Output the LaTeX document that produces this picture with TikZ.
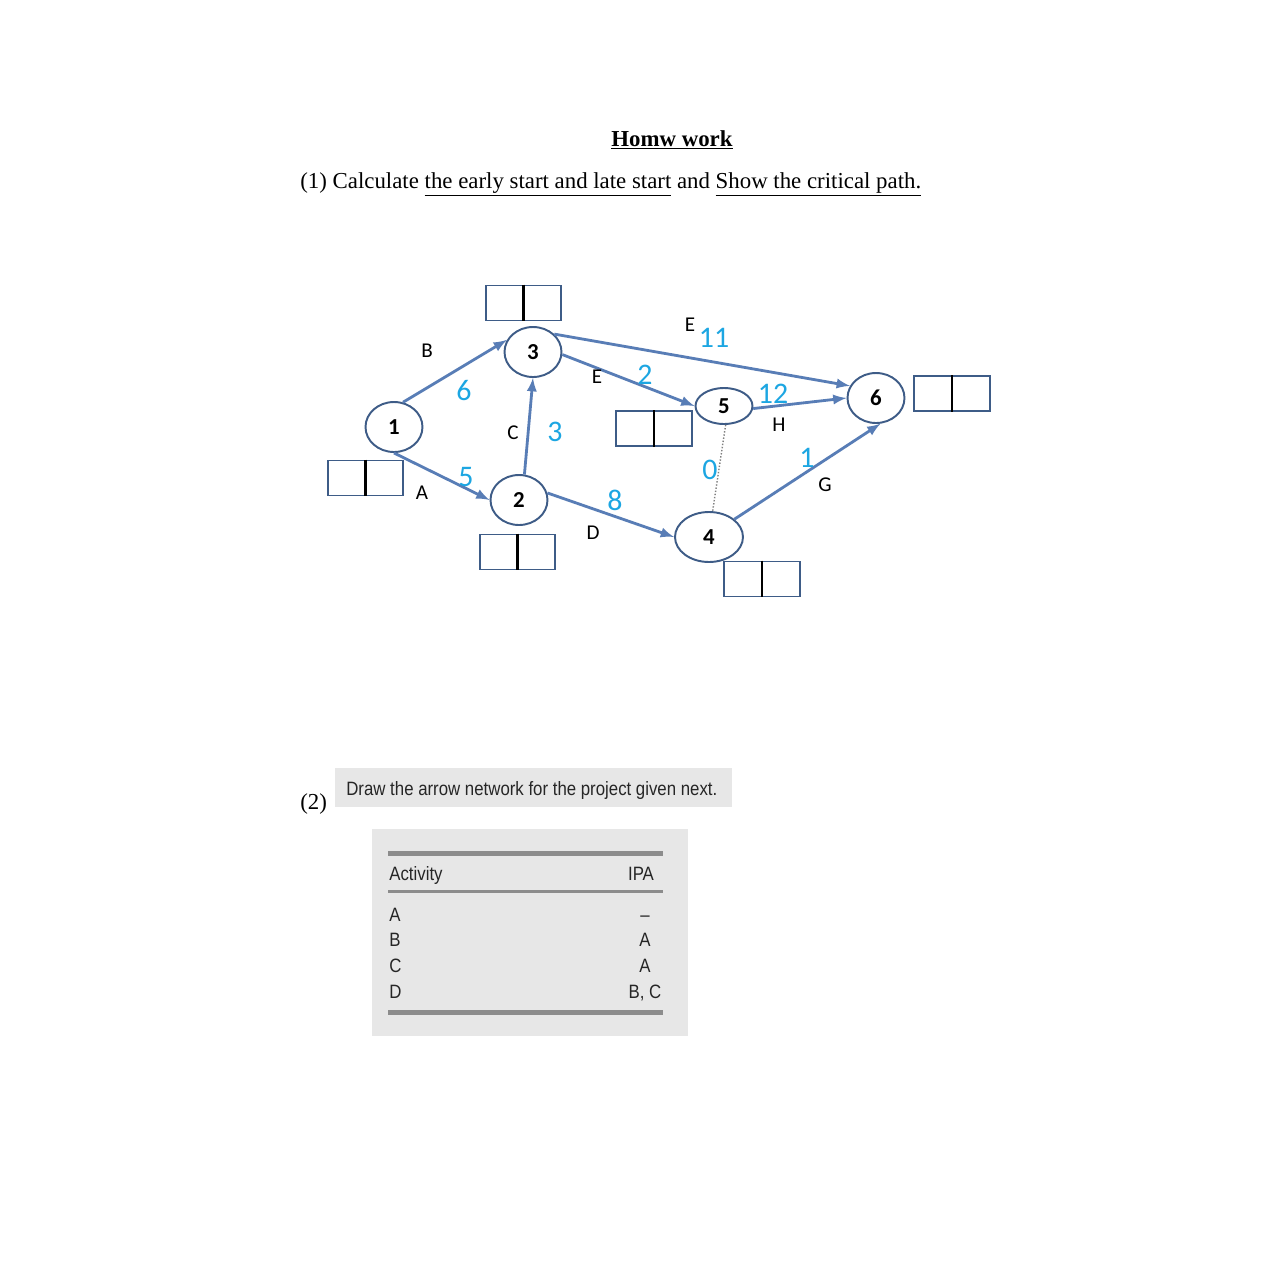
\documentclass[tikz,border=0pt]{standalone}
\usepackage{fontspec}
\setmainfont{Liberation Serif}
\newfontfamily\calibri{Carlito}
\newfontfamily\narrow[FakeStretch=0.87]{Liberation Sans}
\usetikzlibrary{arrows,shapes.geometric,shapes.multipart}
\definecolor{actblue}{RGB}{88,125,182}
\definecolor{ringblue}{RGB}{62,92,135}
\definecolor{durcyan}{RGB}{28,166,226}
\definecolor{panel}{RGB}{231,231,231}
\definecolor{rulegray}{RGB}{140,140,140}
\newcommand{\twocells}{\rule{7.4mm}{0pt}\nodepart{two}\rule{7.4mm}{0pt}}

\begin{document}
\begin{tikzpicture}[x=0.02cm, y=-0.02cm, >=latex,
    event/.style={ellipse, draw=ringblue, line width=1.1pt, fill=white,
            minimum width=1.14cm, minimum height=1cm, inner sep=0pt,
            font=\calibri\bfseries\fontsize{13}{13}\selectfont},
    timebox/.style={rectangle split, rectangle split parts=2,
            rectangle split horizontal, draw=ringblue, line width=1.1pt,
            inner xsep=0pt, minimum height=0.7cm},
    act/.style={->, actblue, line width=1.6pt},
    dummy/.style={densely dotted, gray, line width=0.8pt},
    lbl/.style={font=\calibri\fontsize{12}{12}\selectfont, inner sep=0pt},
    dur/.style={font=\calibri\fontsize{17}{17}\selectfont, text=durcyan, inner sep=0pt},
    txt/.style={font=\fontsize{13}{15}\selectfont, inner sep=0pt},
    tab/.style={font=\narrow\fontsize{11}{13}\selectfont, text=black!85, inner sep=0pt}]

  \fill[white] (0,0) rectangle (1265,1265);
  \useasboundingbox (0,0) rectangle (1265,1265);

  % heading
  \node[txt, anchor=base] (title) at (672,146) {\textbf{\underline{Homw work}}};
  \node[txt, anchor=base west] (q1) at (300,188)
    {(1) Calculate \underline{the early start and late start} and \underline{Show the critical path.}};

  % events
  \node[event] (1) at (394,427) {1};
  \node[event] (3) at (533,352) {3};
  \node[event] (2) at (519,500) {2};
  \node[event, minimum height=0.72cm] (5) at (724,406) {5};
  \node[event, minimum width=1.36cm] (4) at (709,537) {4};
  \node[event] (6) at (876,398) {6};

  % empty time boxes
  \node[timebox] (b1) at (365.5,478) {\twocells};
  \node[timebox] (b2) at (517.5,552) {\twocells};
  \node[timebox] (b3) at (523.5,303) {\twocells};
  \node[timebox] (b4) at (762,579) {\twocells};
  \node[timebox] (b5) at (654,428.5) {\twocells};
  \node[timebox] (b6) at (952,393.5) {\twocells};
  \foreach \b in {b1,b2,b3,b4,b5,b6}
    \draw[line width=1.4pt] (\b.one split north) -- (\b.one split south);

  % activities
  \draw[act] (1.70) -- (3.155);
  \draw[act] (1.-90) -- (2.180);
  \draw[act] (2.78) -- (3.-90);
  \draw[act] (3.40) -- (6.155);
  \draw[act] (3.-5) -- (5.180);
  \draw[act] (2.14) -- (4.180);
  \draw[act] (5.-5) -- (6.180);
  \draw[act] (4.35) -- (6.-80);
  \draw[dummy] (5.-85) -- (4.82);

  % activity names
  \node[lbl] (lB) at (427,351) {B};
  \node[lbl] (lA) at (422,493) {A};
  \node[lbl] (lC) at (513,433) {C};
  \node[lbl] (lE1) at (690,325) {E};
  \node[lbl] (lE2) at (597,377) {E};
  \node[lbl] (lD) at (593,533) {D};
  \node[lbl] (lH) at (779,425) {H};
  \node[lbl] (lG) at (825,485) {G};

  % durations
  \node[dur] (d6) at (464,391) {6};
  \node[dur] (d5) at (466,477) {5};
  \node[dur] (d3) at (555,432) {3};
  \node[dur] (d11) at (714,338) {11};
  \node[dur] (d2) at (645,375) {2};
  \node[dur] (d8) at (615,500) {8};
  \node[dur] (d12) at (773,394) {12};
  \node[dur] (d0) at (710,470) {0};
  \node[dur] (d1) at (807,458) {1};

  % part (2)
  \node[txt, anchor=base west] (q2) at (300,809) {(2)};
  \fill[panel] (335,768) rectangle (732,807);
  \node[tab, anchor=base west] (ask) at (346,795) {Draw the arrow network for the project given next.};

  \fill[panel] (372,829) rectangle (688,1036);
  \fill[rulegray] (388,850.5) rectangle (663,855.5);
  \fill[rulegray] (388,889.5) rectangle (663,892.5);
  \fill[rulegray] (388,1009.5) rectangle (663,1014.5);
  \node[tab, anchor=base west] (hact) at (389,880) {Activity};
  \node[tab, anchor=base] (hipa) at (641,880) {IPA};
  \node[tab, anchor=base west] (rA) at (389,921) {A};
  \node[tab, anchor=base west] (rB) at (389,946) {B};
  \node[tab, anchor=base west] (rC) at (389,972) {C};
  \node[tab, anchor=base west] (rD) at (389,998) {D};
  \node[tab, anchor=base] (pA) at (645,921) {\textendash};
  \node[tab, anchor=base] (pB) at (645,946) {A};
  \node[tab, anchor=base] (pC) at (645,972) {A};
  \node[tab, anchor=base] (pD) at (645,998) {B, C};
\end{tikzpicture}
\end{document}
